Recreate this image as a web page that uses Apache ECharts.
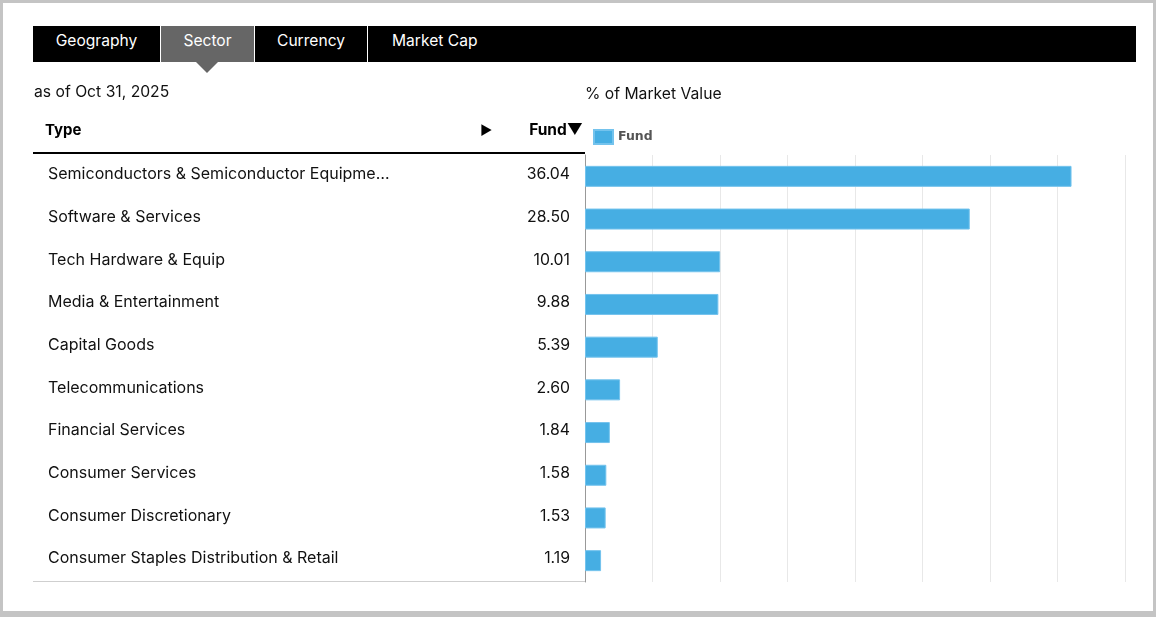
<!DOCTYPE html>
<html lang="en">
<head>
    <meta charset="UTF-8">
    <title>Sector - % of Market Value</title>
    <script src="https://cdn.jsdelivr.net/npm/echarts@6.0.0/dist/echarts.min.js"></script>
    <style>
        body {
            margin: 0;
            background: #c4c4c4;
            font-family: Inter, Roboto, 'Noto Sans', sans-serif;
            color: #111;
        }
        .page {
            position: absolute;
            left: 3px; top: 3px;
            width: 1150px; height: 608px;
            background: #fff;
        }
        .tabs {
            position: absolute;
            left: 33px; top: 26px;
            width: 1103px; height: 36px;
            background: #000;
            display: flex;
        }
        .tab {
            color: #fff;
            font-size: 15.6px;
            line-height: 30px;
            text-align: center;
            border-right: 1px solid #fff;
        }
        .tab.active { background: #666; }
        .arrow {
            position: absolute;
            left: 196px; top: 62px;
            width: 0; height: 0;
            border-left: 11px solid transparent;
            border-right: 11px solid transparent;
            border-top: 11px solid #666;
        }
        .txt { position: absolute; font-size: 15.7px; line-height: 20px; white-space: nowrap; z-index: 2; }
        .bold { font-weight: bold; color: #000; }
        .rule { position: absolute; z-index: 2; }
        #chart {
            position: absolute;
            left: 0; top: 0;
            width: 1156px; height: 617px;
        }
    </style>
</head>
<body>
    <div class="page"></div>
    <div class="tabs">
        <div class="tab" style="width:127px;">Geography</div>
        <div class="tab active" style="width:93px;">Sector</div>
        <div class="tab" style="width:112px;">Currency</div>
        <div class="tab" style="border:none;padding-left:24px;">Market Cap</div>
    </div>
    <div class="arrow"></div>
    <div class="txt" style="left:34px;top:82px;">as of Oct 31, 2025</div>
    <div class="txt" style="left:585px;top:84px;">% of Market Value</div>
    <div class="txt bold" style="left:45px;top:120px;font-size:15px;">Type</div>
    <div class="txt bold" style="left:480px;top:120px;font-size:13px;">&#9654;</div>
    <div class="txt bold" style="left:483px;top:120px;width:100px;text-align:right;font-size:15.5px;">Fund&#9660;</div>
    <div class="rule" style="left:33px;top:152px;width:552px;height:2px;background:#000;"></div>
    <div class="rule" style="left:33px;top:581px;width:552px;height:1px;background:#cfcfcf;"></div>
    <div id="chart"></div>
    <script>
        var sectors = [
            'Semiconductors & Semiconductor Equipment',
            'Software & Services',
            'Tech Hardware & Equip',
            'Media & Entertainment',
            'Capital Goods',
            'Telecommunications',
            'Financial Services',
            'Consumer Services',
            'Consumer Discretionary',
            'Consumer Staples Distribution & Retail'
        ];
        var fundValues = [36.04, 28.50, 10.01, 9.88, 5.39, 2.60, 1.84, 1.58, 1.53, 1.19];

        var chart = echarts.init(document.getElementById('chart'));
        chart.setOption({
            animation: false,
            legend: {
                data: [{ name: 'Fund', icon: 'rect' }],
                left: 593, top: 129,
                padding: 0,
                itemWidth: 19, itemHeight: 14,
                textStyle: { fontSize: 12.5, fontWeight: 'bold', color: '#555', fontFamily: 'DejaVu Sans' }
            },
            grid: { left: 585, right: 31, top: 155, bottom: 35 },
            xAxis: {
                type: 'value',
                min: 0, max: 40, interval: 5,
                axisLabel: { show: false },
                axisLine: { show: false },
                axisTick: { show: false },
                splitLine: { lineStyle: { color: '#e8e8e8', width: 1 } }
            },
            yAxis: {
                type: 'category',
                inverse: true,
                data: sectors,
                axisLine: { lineStyle: { color: '#999', width: 1 } },
                axisTick: { show: false },
                axisLabel: {
                    align: 'left',
                    margin: 537,
                    width: 522,
                    padding: [0, 0, 4, 0],
                    formatter: function (name, i) {
                        var n = name.length > 38 ? name.slice(0, 38) + '…' : name;
                        return '{n|' + n + '}{v|' + fundValues[i].toFixed(2) + '}';
                    },
                    rich: {
                        n: { fontSize: 16, color: '#111', fontFamily: 'Inter' },
                        v: { fontSize: 15.8, color: '#111', fontFamily: 'Inter', align: 'right' }
                    }
                }
            },
            series: [{
                name: 'Fund',
                type: 'bar',
                data: fundValues,
                barWidth: 21,
                itemStyle: { color: '#46aee3', borderColor: '#74c3ed', borderWidth: 1 }
            }]
        });
    </script>
</body>
</html>
